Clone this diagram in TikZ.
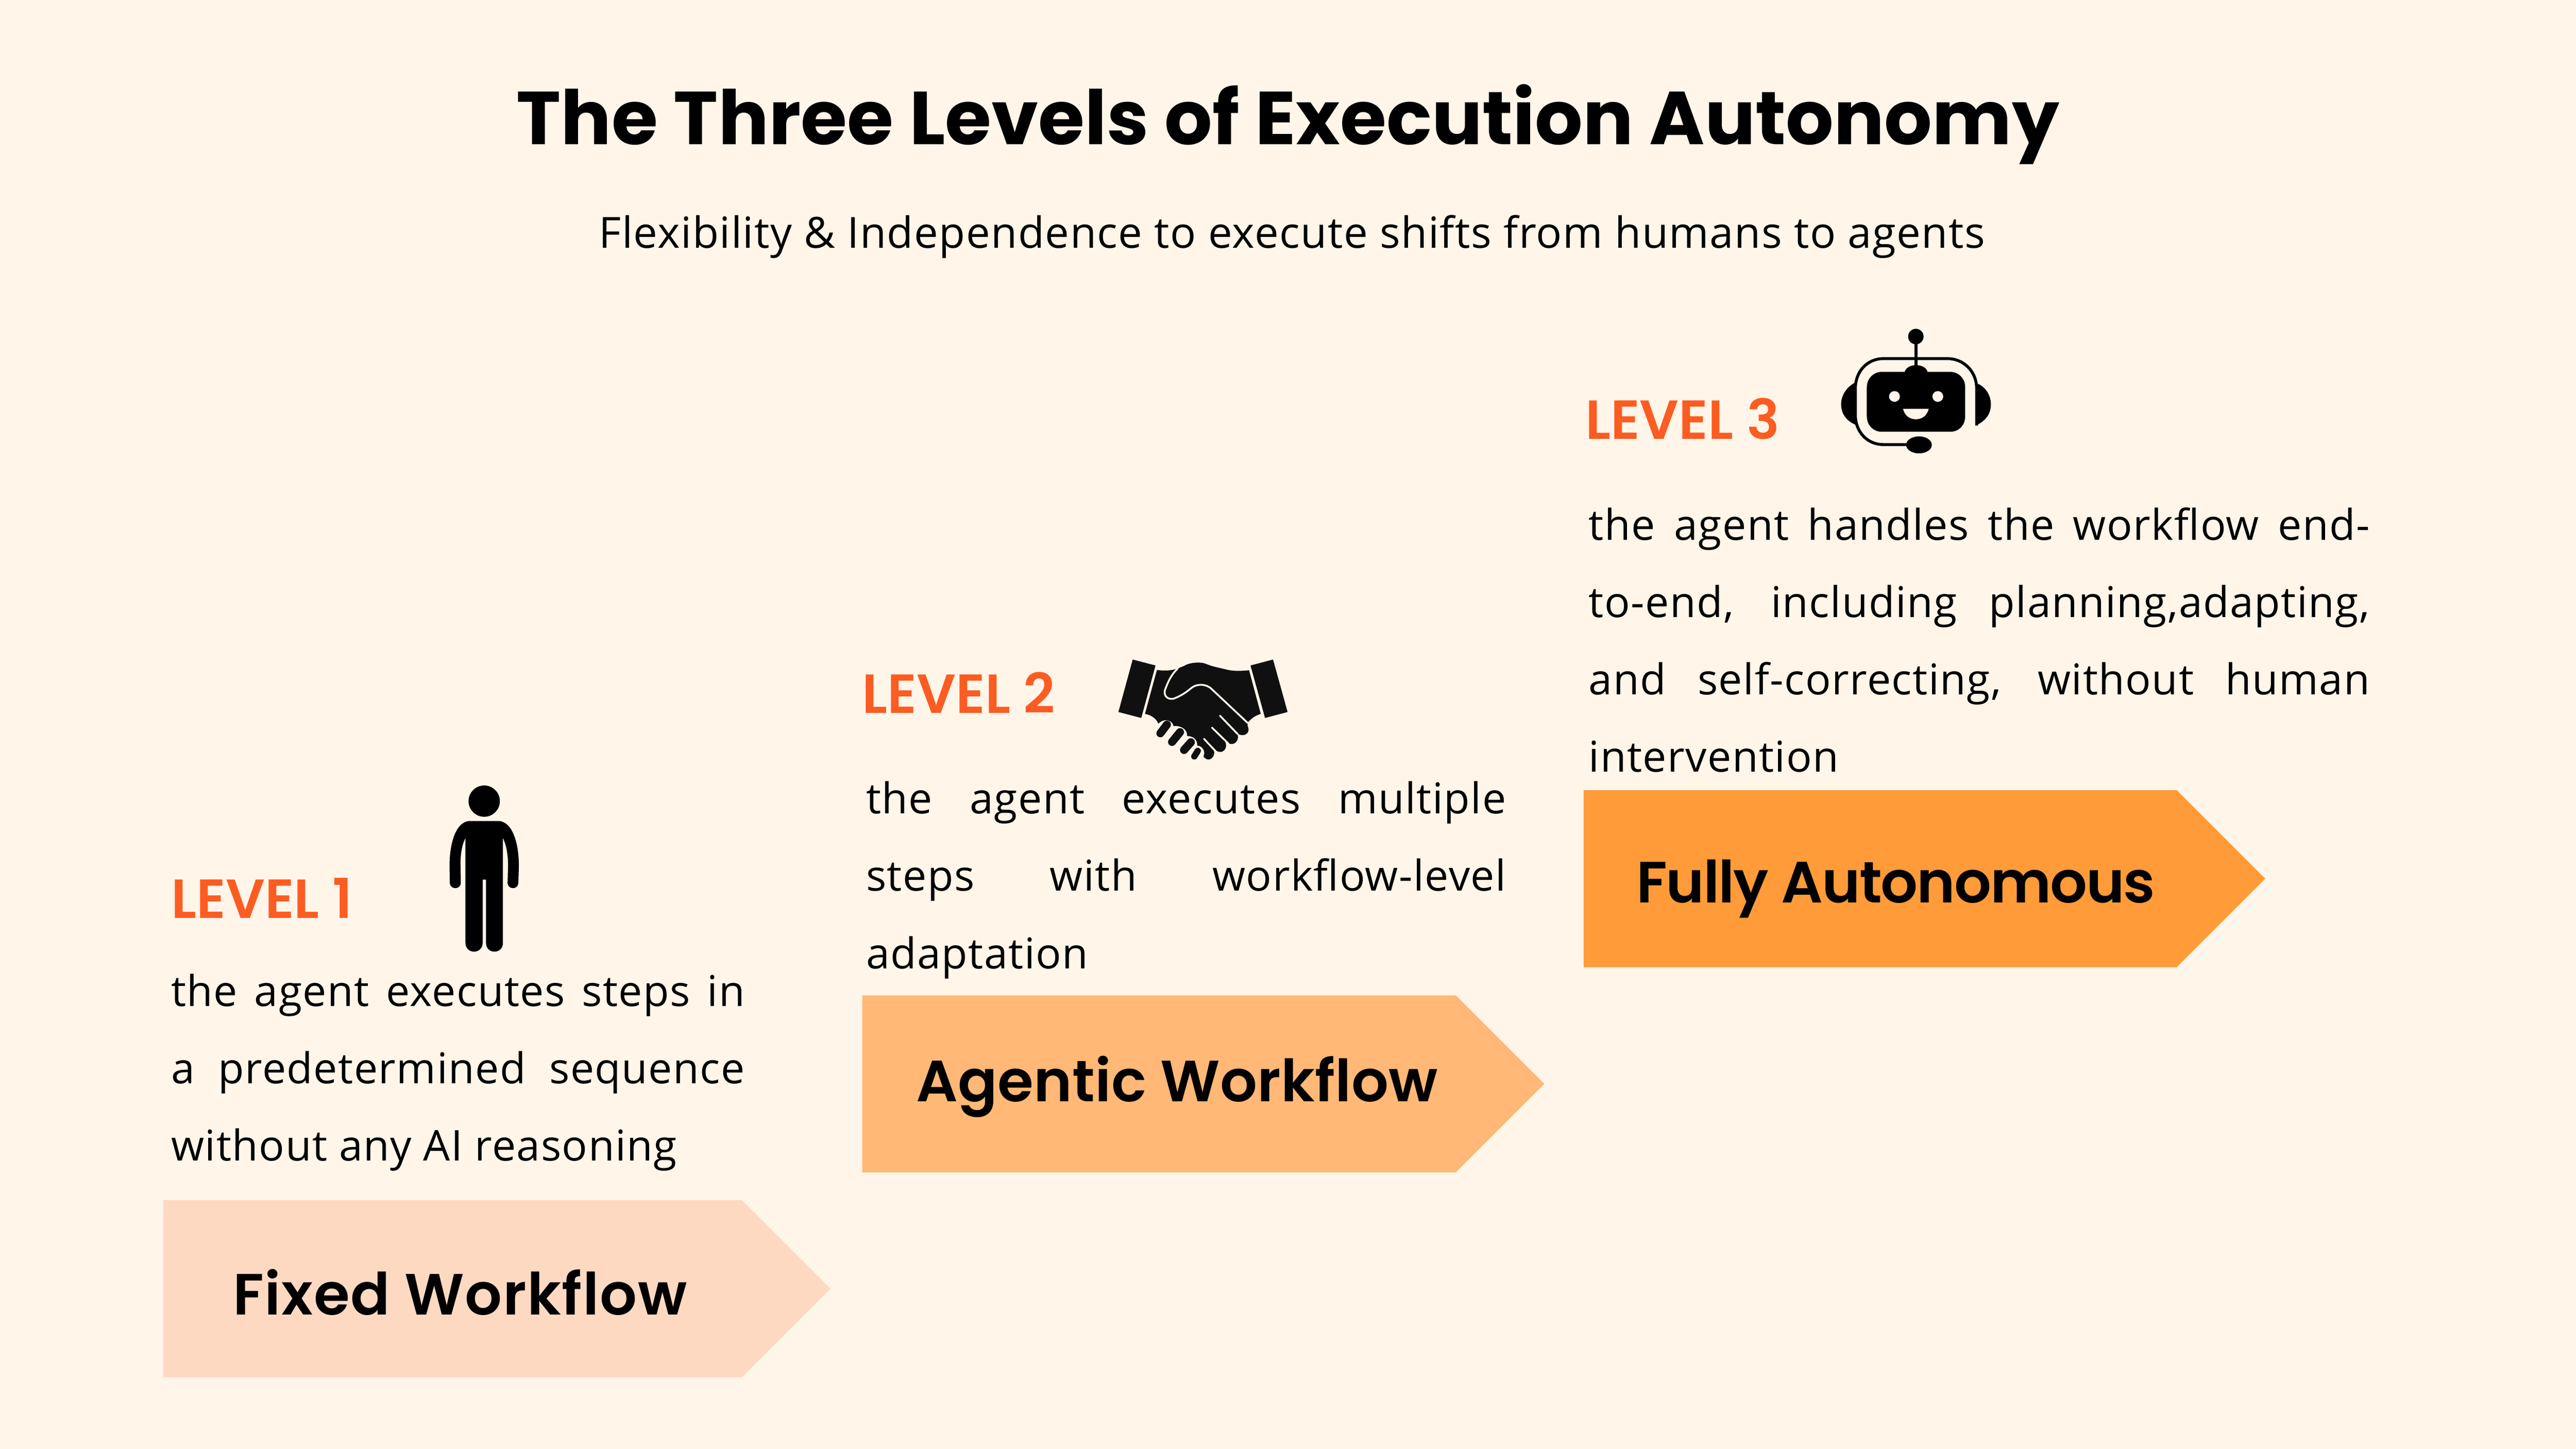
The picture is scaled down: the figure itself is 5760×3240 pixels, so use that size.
\documentclass[tikz,border=0pt]{standalone}
\usepackage{fontspec}
\setmainfont{Open Sans}
\newfontfamily\headfont{Poppins}
\newfontfamily\tagfont{Poppins SemiBold}
\newfontfamily\lvlfont{Poppins SemiBold}
\newfontfamily\bodyfont{Open Sans}[LetterSpace=1.8]
\definecolor{paper}{HTML}{FFF5E9}
\definecolor{lvlc}{HTML}{FC5C21}
\definecolor{tagone}{HTML}{FDD9C2}
\definecolor{tagtwo}{HTML}{FFB876}
\definecolor{tagthree}{HTML}{FF9B38}
\definecolor{shake}{HTML}{111010}

\begin{document}
\begin{tikzpicture}[x=0.01cm, y=-0.01cm,
    head/.style={anchor=base, inner sep=0pt, font=\headfont\bfseries\fontsize{47.75pt}{56pt}\selectfont},
    sub/.style={anchor=base, inner sep=0pt, font=\bodyfont\fontsize{27.3pt}{30pt}\selectfont},
    lvl/.style={anchor=base west, inner sep=0pt, text=lvlc, font=\lvlfont\fontsize{35pt}{40pt}\selectfont},
    txt/.style={anchor=north west, inner sep=0pt, align=justify, font=\bodyfont\fontsize{27pt}{49.2pt}\selectfont},
    tag/.style={anchor=base west, inner sep=0pt, font=\tagfont\addfontfeature{LetterSpace=#1}\fontsize{37pt}{40pt}\selectfont},
    ink/.style={fill=black},
    cut/.style={draw=paper, line width=1.15pt, line cap=round},
    band/.style={draw=black, line width=1.85pt},
    finger/.style={draw=shake, line cap=round}]
          \useasboundingbox (0,0) rectangle (5760,3240);
          \fill[paper] (0,0) rectangle (5760,3240);

          \node[head] (title) at (2880,323) {The Three Levels of Execution Autonomy};
          \node[sub] (subtitle) at (2889,555) {Flexibility \& Independence to execute shifts from humans to agents};

          \fill[tagone] (365,2684) -- (1659,2684) -- (1857,2882) -- (1659,3080) -- (365,3080) -- cycle;
          \fill[tagtwo] (1928,2226) -- (3255,2226) -- (3453,2424) -- (3255,2622) -- (1928,2622) -- cycle;
          \fill[tagthree] (3541,1767) -- (4867,1767) -- (5065,1965) -- (4867,2163) -- (3541,2163) -- cycle;

          \node[tag=1.4] (fixed) at (520,2941) {Fixed Workflow};
          \node[tag=0.25] (agentic) at (2048,2463) {Agentic Workflow};
          \node[tag=-1.9] (fully) at (3658,2019) {Fully Autonomous};

          \node[lvl] (one) at (382,2053) {LEVEL 1};
          \node[lvl] (two) at (1927,1595) {LEVEL 2};
          \node[lvl] (three) at (3544,982) {LEVEL 3};

          \node[txt, text width=12.82cm] (onetxt) at (382,2177) {the agent executes steps in\linebreak a predetermined sequence\linebreak without any AI reasoning};
          \node[txt, text width=14.30cm] (twotxt) at (1936,1747) {the agent executes multiple\linebreak steps with workflow-level\linebreak adaptation};
          \node[txt, text width=17.45cm] (threetxt) at (3552,1134) {the agent handles the workflow end-\linebreak to-end, including planning,adapting,\linebreak and self-correcting, without human\linebreak intervention};

          \begin{scope}[shift={(360,1720)}, xscale=.574, yscale=.3333]
          \fill[ink] (1259,215) ellipse (61 and 105);
          \fill[ink] (1205,348) -- (1312,348) .. controls (1370,348) and (1394,500) .. (1394,650) -- (1392,765)
                .. controls (1390,810) and (1352,810) .. (1350,765) -- (1352,650) .. controls (1352,570) and (1345,510) .. (1332,462)
                -- (1332,1165) .. controls (1332,1245) and (1266,1245) .. (1266,1165) -- (1266,742) -- (1253,742) -- (1253,1165)
                .. controls (1253,1245) and (1186,1245) .. (1186,1165) -- (1186,462) .. controls (1172,510) and (1166,570) .. (1167,650)
                -- (1168,765) .. controls (1166,810) and (1127,810) .. (1125,765) -- (1124,650) .. controls (1124,500) and (1148,348) .. (1205,348) -- cycle;
          \end{scope}

          \begin{scope}[shift={(1900,1420)}, xscale=.6378, yscale=.3333]
          \fill[shake] (992,165) -- (1072,205) -- (1022,557) -- (942,517) -- cycle;
          \fill[shake] (1484,165) -- (1405,205) -- (1456,557) -- (1535,517) -- cycle;
          \fill[shake] (1077,235) .. controls (1100,242) and (1130,240) .. (1150,225) -- (1172,208)
                .. controls (1190,185) and (1230,178) .. (1250,195) .. controls (1275,215) and (1300,222) .. (1320,232)
                .. controls (1345,245) and (1375,242) .. (1400,237) -- (1441,530) .. controls (1420,540) and (1402,570) .. (1395,590)
                -- (1395,610) .. controls (1405,650) and (1390,672) .. (1378,672) .. controls (1368,672) and (1362,665) .. (1358,660)
                .. controls (1368,700) and (1352,732) .. (1340,732) .. controls (1332,732) and (1326,726) .. (1316,715)
                .. controls (1326,755) and (1312,785) .. (1300,785) .. controls (1292,785) and (1284,778) .. (1274,765)
                .. controls (1285,800) and (1270,836) .. (1258,836) .. controls (1250,836) and (1244,825) .. (1240,815)
                .. controls (1248,790) and (1240,745) .. (1218,742) .. controls (1220,705) and (1205,678) .. (1183,678)
                .. controls (1185,640) and (1165,605) .. (1135,612) .. controls (1135,580) and (1105,550) .. (1082,595)
                .. controls (1075,560) and (1055,535) .. (1035,530) -- cycle;
          \draw[cut] (1150,225) .. controls (1125,270) and (1115,320) .. (1105,370) .. controls (1100,410) and (1115,435) .. (1135,428)
                .. controls (1160,410) and (1180,385) .. (1195,360) .. controls (1215,325) and (1250,325) .. (1270,365) -- (1395,590);
          \draw[cut] (1298,542) -- (1360,665);
          \draw[cut] (1270,622) -- (1328,730);
          \draw[cut] (1242,697) -- (1285,785);
          \draw[finger, line width=5.1pt] (1112,602) -- (1089,660);
          \draw[finger, line width=5.1pt] (1158,652) -- (1130,718);
          \draw[finger, line width=5.1pt] (1196,720) -- (1172,772);
          \draw[finger, line width=4pt] (1220,778) -- (1208,815);
          \end{scope}

          \begin{scope}[shift={(3500,680)}, xscale=.6378, yscale=.3333]
          \fill[ink] (1229,218) ellipse (27 and 52);
          \fill[ink] (1225,260) rectangle (1235,410);
          \fill[ink] (1013,530) .. controls (985,560) and (967,615) .. (967,672) .. controls (967,735) and (985,785) .. (1020,812) -- cycle;
          \fill[ink] (1447,535) .. controls (1475,560) and (1492,615) .. (1492,672) .. controls (1492,735) and (1475,785) .. (1438,815) -- cycle;
          \draw[band] (1195,943) -- (1115,943) .. controls (1060,943) and (1017,860) .. (1017,745) -- (1017,565)
                .. controls (1017,450) and (1060,366) .. (1115,366) -- (1340,366) .. controls (1395,366) and (1442,450) .. (1442,565) -- (1442,815);
          \fill[ink] (1110,455) -- (1190,455) .. controls (1198,395) and (1262,395) .. (1270,455) -- (1348,455)
                .. controls (1380,455) and (1402,500) .. (1402,560) -- (1402,750) .. controls (1402,815) and (1380,857) .. (1348,857)
                -- (1110,857) .. controls (1080,857) and (1057,815) .. (1057,750) -- (1057,560) .. controls (1057,500) and (1080,455) .. (1110,455) -- cycle;
          \fill[paper] (1154,620) ellipse (19 and 36);
          \fill[paper] (1306,620) ellipse (19 and 36);
          \fill[paper] (1184,703) -- (1274,703) .. controls (1268,750) and (1250,773) .. (1229,773) .. controls (1208,773) and (1190,750) .. (1184,703) -- cycle;
          \fill[ink] (1240,945) ellipse (45 and 57);
          \end{scope}
\end{tikzpicture}
\end{document}
